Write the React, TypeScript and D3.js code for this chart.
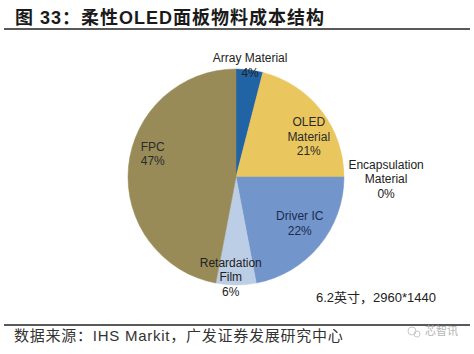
import { useEffect, useRef } from "react";
import * as d3 from "d3";

// ── Data ──────────────────────────────────────────────────────────────────
const categories = ["Array Material", "OLED Material", "Encapsulation Material", "Driver IC", "Retardation Film", "FPC"];
const shares = [4, 21, 0, 22, 6, 47];
const labelLines = [
  ["Array Material", "4%"],
  ["OLED", "Material", "21%"],
  ["Encapsulation", "Material", "0%"],
  ["Driver IC", "22%"],
  ["Retardation", "Film", "6%"],
  ["FPC", "47%"],
];
const title = "图 33：柔性OLED面板物料成本结构";
const note = "6.2英寸，2960*1440";
const source = "数据来源：IHS Markit，广发证券发展研究中心";
const watermark = "芯智讯";

// ── Styling (not data) ────────────────────────────────────────────────────
const colors = ["#2064a6", "#eac65e", "#4f81bd", "#7295cc", "#bccde6", "#988b57"];
const textColors = ["#222", "#2b2b2b", "#222", "#1d2b4c", "#222", "#2b2b2b"];
// label anchor: angle (deg clockwise from 12 o'clock) and radius fraction
const labelAnchor: [number, number][] = [
  [7.2, 1.04],
  [61, 0.77],
  [90.8, 1.39],
  [126, 0.73],
  [183, 0.93],
  [285.5, 0.8],
];

export default function App() {
  const svgRef = useRef<SVGSVGElement>(null);

  useEffect(() => {
    if (!svgRef.current) return;
    const width = 474;
    const height = 354;
    const cx = 236;
    const cy = 177;
    const radius = 108;
    const latin = "'Liberation Sans', Arial, 'Noto Sans CJK SC', sans-serif";

    const svg = d3.select(svgRef.current);
    svg.attr("width", width).attr("height", height).attr("viewBox", `0 0 ${width} ${height}`);
    svg.selectAll("*").remove();

    svg.append("rect").attr("width", width).attr("height", height).attr("fill", "#fff");

    // ── Header ──────────────────────────────────────────────────────────────
    svg.append("text")
      .attr("x", 15)
      .attr("y", 24)
      .attr("font-family", latin)
      .attr("font-weight", "bold")
      .attr("font-size", 18)
      .attr("letter-spacing", 1)
      .attr("fill", "#1a1a1a")
      .text(title);

    svg.append("line")
      .attr("x1", 4).attr("x2", 470)
      .attr("y1", 29).attr("y2", 29)
      .attr("stroke", "#222").attr("stroke-width", 1.5);

    // ── Pie ─────────────────────────────────────────────────────────────────
    const data = categories.map((c, i) => ({ name: c, value: shares[i], i }));
    const pie = d3.pie<{ name: string; value: number; i: number }>()
      .sort(null)
      .value((d) => d.value);
    const arc = d3.arc<d3.PieArcDatum<{ name: string; value: number; i: number }>>()
      .innerRadius(0)
      .outerRadius(radius);

    const g = svg.append("g").attr("transform", `translate(${cx},${cy})`);

    g.selectAll("path.slice")
      .data(pie(data).filter((d) => d.data.value > 0))
      .enter()
      .append("path")
      .attr("class", "slice")
      .attr("d", arc)
      .attr("fill", (d) => colors[d.data.i])
      .attr("stroke", (d) => colors[d.data.i])
      .attr("stroke-width", 0.5);

    // ── Labels ──────────────────────────────────────────────────────────────
    const lh = 14.5;
    labelLines.forEach((lines, i) => {
      const [deg, rf] = labelAnchor[i];
      const a = (deg * Math.PI) / 180;
      const lx = Math.sin(a) * radius * rf;
      const ly = -Math.cos(a) * radius * rf;
      const t = g.append("text")
        .attr("text-anchor", "middle")
        .attr("font-family", latin)
        .attr("font-size", 12)
        .attr("fill", textColors[i]);
      lines.forEach((ln, k) => {
        t.append("tspan")
          .attr("x", lx)
          .attr("y", ly - ((lines.length - 1) * lh) / 2 + k * lh + 4)
          .text(ln);
      });
    });

    // ── Note ────────────────────────────────────────────────────────────────
    svg.append("text")
      .attr("x", 316)
      .attr("y", 302)
      .attr("font-family", latin)
      .attr("font-size", 13)
      .attr("fill", "#222")
      .text(note);

    // ── Footer ──────────────────────────────────────────────────────────────
    svg.append("line")
      .attr("x1", 4).attr("x2", 470)
      .attr("y1", 325).attr("y2", 325)
      .attr("stroke", "#222").attr("stroke-width", 1.5);

    svg.append("text")
      .attr("x", 14)
      .attr("y", 341)
      .attr("font-family", latin)
      .attr("font-size", 15)
      .attr("letter-spacing", 0.75)
      .attr("fill", "#333")
      .text(source);

    // watermark
    const wm = svg.append("g").attr("fill", "none").attr("stroke", "#c8c8c8").attr("stroke-width", 1);
    wm.append("circle").attr("cx", 412).attr("cy", 331).attr("r", 4);
    wm.append("circle").attr("cx", 417).attr("cy", 334).attr("r", 3);
    svg.append("text")
      .attr("x", 425)
      .attr("y", 335)
      .attr("font-family", latin)
      .attr("font-size", 11)
      .attr("fill", "#b5b5b5")
      .text(watermark);
  }, []);

  return (
    <svg
      ref={svgRef}
      style={{ position: "absolute", left: 0, top: 0, display: "block" }}
    />
  );
}
